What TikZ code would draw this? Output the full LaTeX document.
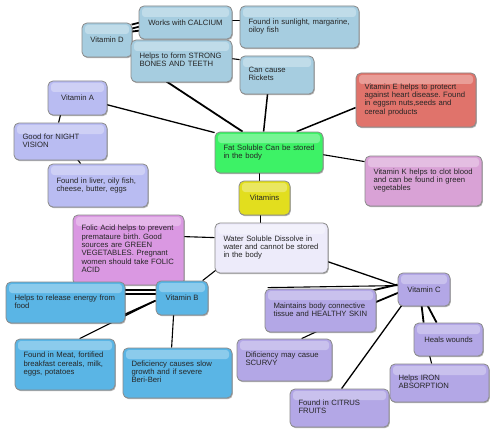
\documentclass[tikz,border=0pt]{standalone}
\usepackage{fontspec}
\setmainfont{Liberation Sans}
\usetikzlibrary{shadows,backgrounds}
\hyphenpenalty=10000
\exhyphenpenalty=10000
\frenchspacing
\definecolor{bdr}{HTML}{8A8A8A}
\definecolor{cD}{HTML}{A6CDE0}
\definecolor{cA}{HTML}{B9BCF2}
\definecolor{cFat}{HTML}{3DF266}
\definecolor{cVit}{HTML}{E2DE1E}
\definecolor{cWat}{HTML}{EDEBFA}
\definecolor{cE}{HTML}{E0736B}
\definecolor{cK}{HTML}{D9A2D6}
\definecolor{cFol}{HTML}{DA98E2}
\definecolor{cB}{HTML}{5AB5E5}
\definecolor{cC}{HTML}{B3A7E6}
\tikzset{
  box/.style={draw=bdr, line width=0.8pt, rounded corners=5pt, inner xsep=5pt, inner ysep=0pt,
    font=\fontsize{7.7}{8.3}\selectfont\frenchspacing, text=black!85,
    drop shadow={shadow xshift=0.8pt, shadow yshift=-1.2pt, opacity=0.3, fill=black},
    path picture={\fill[white,opacity=0.3,rounded corners=3pt]
      ([shift={(3pt,-2pt)}]path picture bounding box.north west) rectangle
      ([shift={(-3pt,-11pt)}]path picture bounding box.north east);}},
  conn/.style={draw=black, line width=1.1pt},
  thick conn/.style={draw=black, line width=1.8pt}
}
\newcommand\bx[7]{%
  \pgfmathsetmacro\bw{#4-#2}\pgfmathsetmacro\bh{#5-#3}\pgfmathsetmacro\tw{#4-#2-10}%
  \node[box,#6,align=left,minimum width=\bw pt,minimum height=\bh pt,text width=\tw pt] (#1) at ({(#2+#4)/2},{(#3+#5)/2}) {\hspace*{3.5pt}\begin{tabular}{@{}l@{}}#7\end{tabular}};}
\newcommand\cbx[7]{%
  \pgfmathsetmacro\bw{#4-#2}\pgfmathsetmacro\bh{#5-#3}%
  \node[box,#6,align=center,inner xsep=2pt,minimum width=\bw pt,minimum height=\bh pt] (#1) at ({(#2+#4)/2},{(#3+#5)/2}) {#7};}
\newcommand\pt[3]{([shift={(#2,#3)}]#1.north west)}
\begin{document}
\begin{tikzpicture}[x=1pt,y=-1pt]
\useasboundingbox (0,0) rectangle (500,433);
\cbx{vd}{82}{23}{132}{57}{fill=cD}{Vitamin D}
\cbx{calc}{139}{6}{232}{39}{fill=cD}{Works with CALCIUM}
\bx{bones}{131}{40}{232}{82}{fill=cD}{Helps to form STRONG\\BONES AND TEETH}
\bx{sun}{240}{6}{359}{48}{fill=cD}{Found in sunlight, margarine,\\oiloy fish}
\bx{rick}{240}{56}{314}{94}{fill=cD}{Can cause\\Rickets}
\bx{ve}{356}{73}{476}{127}{fill=cE}{Vitamin E helps to protecrt\\against heart disease. Found\\in eggsm nuts,seeds and\\cereal products}
\cbx{va}{48}{81}{107}{115}{fill=cA}{Vitamin A}
\bx{night}{14}{123}{107}{160}{fill=cA}{Good for NIGHT\\VISION}
\bx{liver}{48}{164}{148}{207}{fill=cA}{Found in liver, oily fish,\\cheese, butter, eggs}
\bx{fat}{215}{132}{323}{173}{fill=cFat}{Fat Soluble Can be stored\\in the body}
\cbx{vit}{239}{181}{290}{215}{fill=cVit}{Vitamins}
\bx{vk}{365}{156}{482}{206}{fill=cK}{Vitamin K helps to clot blood\\and can be found in green\\vegetables}
\bx{water}{215}{223}{328}{273}{fill=cWat}{Water Soluble Dissolve in\\water and cannot be stored\\in the body}
\bx{folic}{73}{215}{184}{285}{fill=cFol}{Folic Acid helps to prevent\\premataure birth. Good\\sources are GREEN\\VEGETABLES. Pregnant\\women should take FOLIC\\ACID}
\bx{energy}{6}{282}{125}{323}{fill=cB}{Helps to release energy from\\food}
\cbx{vb}{156}{281}{208}{315}{fill=cB}{Vitamin B}
\bx{meat}{15}{339}{115}{390}{fill=cB}{Found in Meat, fortified\\breakfast cereals, milk,\\eggs, potatoes}
\bx{defb}{123}{348}{232}{398}{fill=cB}{Deficiency causes slow\\growth and if severe\\Beri-Beri}
\cbx{vc}{398}{273}{450}{306}{fill=cC}{Vitamin C}
\bx{maint}{265}{289}{376}{332}{fill=cC}{Maintains body connective\\tissue and HEALTHY SKIN}
\bx{scurvy}{237}{339}{332}{381}{fill=cC}{Dificiency may casue\\SCURVY}
\cbx{heal}{414}{323}{483}{356}{fill=cC}{Heals wounds}
\bx{iron}{390}{364}{489}{402}{fill=cC}{Helps IRON\\ABSORPTION}
\bx{citrus}{290}{389}{389}{427}{fill=cC}{Found in CITRUS\\FRUITS}
\begin{pgfonlayer}{background}
\fill[white] (0,0) rectangle (500,433);
\draw[thick conn] \pt{vd}{50}{2} -- \pt{calc}{1}{17};
\draw[thick conn] \pt{vd}{50}{6} -- \pt{calc}{1}{21};
\draw[thick conn] \pt{vd}{50}{9} -- \pt{calc}{1}{25};
\draw[conn] \pt{calc}{93}{15} -- \pt{sun}{0}{15};
\draw[conn] \pt{bones}{101}{19} -- \pt{rick}{0}{4};
\draw[thick conn] \pt{bones}{36}{42} -- \pt{fat}{28}{0};
\draw[conn,line width=1.5pt] \pt{rick}{28}{38} -- \pt{fat}{49}{0};
\draw[conn,line width=1.3pt] \pt{va}{59}{24} -- \pt{fat}{0}{1};
\draw[conn] \pt{va}{13}{34} -- \pt{night}{45}{0};
\draw[conn] \pt{night}{64}{37} -- \pt{liver}{33}{0};
\draw[conn,line width=1.5pt] \pt{ve}{0}{35} -- \pt{fat}{82}{0};
\draw[conn] \pt{fat}{108}{23} -- \pt{vk}{0}{6};
\draw[conn] \pt{fat}{45}{41} -- \pt{vit}{21}{0};
\draw[conn] \pt{vit}{22}{34} -- \pt{water}{46}{0};
\draw[conn] \pt{water}{0}{15} -- \pt{folic}{111}{22};
\draw[conn] \pt{water}{2}{47} -- \pt{vb}{47}{0};
\draw[conn,line width=1.3pt] \pt{water}{113}{39} -- \pt{vc}{0}{13};
\draw[thick conn] \pt{vc}{0}{12} -- \pt{maint}{107}{2};
\draw[thick conn] \pt{vc}{1}{20} -- \pt{maint}{110}{14};
\draw[conn] \pt{vc}{0}{13} -- \pt{maint}{3}{-1};
\draw[conn] \pt{maint}{52}{43} -- \pt{scurvy}{65}{0};
\draw[conn,line width=1.3pt] \pt{vc}{4}{33} -- \pt{citrus}{52}{0};
\draw[thick conn] \pt{vc}{24}{33} -- \pt{heal}{10}{0};
\draw[thick conn] \pt{vc}{30}{33} -- \pt{heal}{23}{0};
\draw[conn] \pt{heal}{16}{33} -- \pt{iron}{42}{0};
\draw[thick conn] \pt{vb}{0}{9} -- \pt{energy}{119}{8};
\draw[thick conn] \pt{vb}{0}{13} -- \pt{energy}{119}{12};
\draw[conn] \pt{vb}{0}{20} -- \pt{meat}{65}{0};
\draw[thick conn] \pt{vb}{0}{20} -- \pt{energy}{119}{33};
\draw[conn] \pt{vb}{18}{34} -- \pt{defb}{49}{0};
\end{pgfonlayer}
\end{tikzpicture}
\end{document}
